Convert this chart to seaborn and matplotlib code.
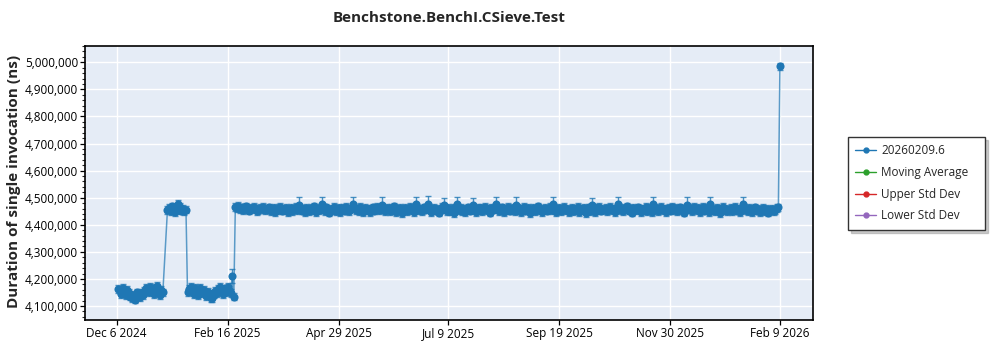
import matplotlib
matplotlib.use("Agg")
import matplotlib.pyplot as plt
import matplotlib.dates as mdates
from matplotlib.ticker import FuncFormatter, FixedLocator, MultipleLocator
from matplotlib.lines import Line2D
import numpy as np
import pandas as pd
import seaborn as sns

# ---------------- data ----------------
title = "Benchstone.BenchI.CSieve.Test"
y_label = "Duration of single invocation (ns)"
legend_names = ["20260209.6", "Moving Average", "Upper Std Dev", "Lower Std Dev"]
legend_colors = ["#1f77b4", "#2ca02c", "#d62728", "#9467bd"]

# daily runs, values in thousands of ns
seg1_start = "2024-12-07"
seg1_k = [4163, 4158, 4145, 4168, 4152, 4140, 4160, 4148, 4135, 4128,
          4142, 4124, 4150, 4138, 4132, 4147, 4139, 4155, 4168, 4160,
          4150, 4172, 4158, 4145, 4166, 4175, 4152, 4141, 4160, 4150]

seg2_start = "2025-01-08"
seg2_k = [4455, 4462, 4450, 4468, 4458, 4447, 4460, 4476, 4465, 4452,
          4459, 4449, 4456]

seg3_start = "2025-01-21"
seg3_k = [4150, 4163, 4172, 4158, 4145, 4166, 4152, 4140, 4168, 4155,
          4147, 4160, 4138, 4153, 4145, 4130, 4128, 4142, 4156, 4149,
          4163, 4170, 4158, 4144, 4165, 4152, 4172, 4160, 4148, 4210,
          4135]

seg4_start = "2025-02-21"
seg4_k = [4466, 4462, 4470, 4458, 4464, 4455, 4461, 4468, 4459, 4452, 4463, 4457, 4466, 4460, 4449, 4455, 4462, 4458, 4467, 4453,
          4460, 4456, 4464, 4451, 4458, 4462, 4447, 4455, 4461, 4466, 4452, 4459, 4454, 4463, 4448, 4457, 4462, 4450, 4458, 4465,
          4455, 4474, 4460, 4452, 4458, 4446, 4463, 4457, 4450, 4461, 4455, 4468, 4448, 4459, 4453, 4462, 4476, 4458, 4451, 4464,
          4457, 4445, 4460, 4454, 4466, 4450, 4458, 4463, 4447, 4455, 4461, 4452, 4467, 4458, 4449, 4460, 4475, 4462, 4454, 4459,
          4451, 4465, 4457, 4448, 4462, 4455, 4460, 4446, 4458, 4464, 4452, 4459, 4467, 4453, 4461, 4474, 4456, 4449, 4463, 4457,
          4450, 4462, 4455, 4468, 4447, 4458, 4453, 4461, 4444, 4457, 4463, 4451, 4459, 4466, 4454, 4460, 4448, 4477, 4462, 4455,
          4458, 4450, 4464, 4456, 4461, 4478, 4459, 4447, 4455, 4463, 4452, 4460, 4445, 4457, 4466, 4473, 4458, 4451, 4462, 4449,
          4456, 4461, 4443, 4458, 4475, 4455, 4463, 4450, 4459, 4446, 4457, 4464, 4452, 4460, 4474, 4457, 4448, 4462, 4455, 4461,
          4450, 4458, 4466, 4453, 4459, 4445, 4461, 4456, 4463, 4476, 4459, 4451, 4457, 4464, 4448, 4460, 4454, 4467, 4452, 4458,
          4463, 4449, 4474, 4461, 4455, 4447, 4459, 4466, 4452, 4458, 4461, 4444, 4456, 4463, 4450, 4459, 4468, 4454, 4460, 4447,
          4457, 4463, 4452, 4459, 4466, 4455, 4477, 4460, 4448, 4456, 4462, 4451, 4458, 4465, 4453, 4460, 4446, 4457, 4463, 4450,
          4459, 4454, 4466, 4448, 4460, 4455, 4462, 4443, 4457, 4464, 4451, 4473, 4458, 4446, 4461, 4455, 4467, 4452, 4459, 4456,
          4462, 4449, 4457, 4465, 4453, 4460, 4447, 4458, 4478, 4462, 4455, 4450, 4463, 4457, 4468, 4452, 4459, 4445, 4461, 4456,
          4453, 4464, 4458, 4448, 4460, 4455, 4466, 4451, 4459, 4462, 4446, 4475, 4457, 4463, 4450, 4458, 4465, 4454, 4460, 4447,
          4458, 4463, 4452, 4467, 4455, 4461, 4449, 4457, 4464, 4453, 4460, 4445, 4458, 4474, 4462, 4456, 4450, 4466, 4459, 4454,
          4461, 4448, 4457, 4465, 4452, 4459, 4463, 4446, 4476, 4460, 4455, 4451, 4462, 4458, 4444, 4457, 4465, 4453, 4459, 4450,
          4456, 4462, 4449, 4458, 4465, 4452, 4460, 4447, 4459, 4475, 4463, 4455, 4450, 4461, 4457, 4446, 4458, 4464, 4452, 4459,
          4448, 4456, 4462, 4451, 4458, 4445, 4457, 4453, 4460, 4449, 4455, 4461, 4464]

last_start = "2026-02-09"
last_k = [4985]

# typical error of a run (thousands of ns) and runs with larger errors
err_typical_k = 14
err_dates = ["2025-02-19", "2025-04-03", "2025-04-18", "2025-05-08", "2025-05-27",
             "2025-06-18", "2025-06-26", "2025-07-06", "2025-07-15", "2025-07-25",
             "2025-08-09", "2025-08-22", "2025-09-15", "2025-10-10", "2025-10-27",
             "2025-11-19", "2025-12-11", "2025-12-26", "2026-01-16"]
err_k = [26, 28, 27, 28, 27, 26, 28, 26, 27, 26, 27, 28, 26, 27, 25, 27, 27, 26, 28]

x_tick_dates = ["2024-12-06", "2025-02-16", "2025-04-29", "2025-07-09",
                "2025-09-19", "2025-11-30", "2026-02-09"]
y_ticks = [4100000, 4200000, 4300000, 4400000, 4500000,
           4600000, 4700000, 4800000, 4900000, 5000000]
y_limits = (4048300, 5060200)

# ---------------- build table ----------------
parts = []
for start, vals in [(seg1_start, seg1_k), (seg2_start, seg2_k), (seg3_start, seg3_k),
                    (seg4_start, seg4_k), (last_start, last_k)]:
    d = pd.date_range(start, periods=len(vals), freq="D")
    parts.append(pd.DataFrame({"date": d, "value": np.array(vals, dtype=float) * 1000}))
df = pd.concat(parts, ignore_index=True)
df["series"] = legend_names[0]
big_err = dict(zip(pd.to_datetime(err_dates), np.array(err_k) * 1000.0))
df["err"] = [big_err.get(d, err_typical_k * 1000.0) for d in df["date"]]

# ---------------- style ----------------
sns.set_style("white", {
    "axes.facecolor": "#E5ECF6",
    "axes.edgecolor": "black",
    "grid.color": "white",
})
plt.rcParams["font.family"] = ["Open Sans", "DejaVu Sans"]

fig = plt.figure(figsize=(10, 3.5), dpi=100)
fig.patch.set_facecolor("white")
ax = fig.add_axes([0.085, 0.0857, 0.728, 0.7829])

blue = legend_colors[0]
sns.lineplot(data=df, x="date", y="value", ax=ax, color=blue, lw=1.1, alpha=0.7,
             estimator=None, sort=False, legend=False)
ax.errorbar(df["date"], df["value"], yerr=df["err"], fmt="none",
            ecolor=blue, elinewidth=1.0, capsize=2.3, capthick=1.0, alpha=0.8, zorder=3)
sns.scatterplot(data=df, x="date", y="value", ax=ax, color=blue, s=34,
                linewidth=0, legend=False, zorder=4)

# axes
ax.margins(x=0.05)
ax.set_ylim(*y_limits)
ax.set_xlabel("")
ax.set_ylabel("")
ax.xaxis.set_major_locator(FixedLocator(mdates.date2num(pd.to_datetime(x_tick_dates))))
ax.xaxis.set_major_formatter(mdates.DateFormatter("%b %-d %Y"))
ax.yaxis.set_major_locator(FixedLocator(y_ticks))
ax.yaxis.set_minor_locator(MultipleLocator(20000))
ax.yaxis.set_major_formatter(FuncFormatter(lambda v, p: f"{v:,.0f}"))
ax.grid(True, which="major", color="white", lw=1.0)
ax.set_axisbelow(True)
for s in ax.spines.values():
    s.set_visible(True)
    s.set_color("black")
    s.set_linewidth(1.2)
ax.tick_params(axis="both", which="major", direction="out", length=3.5, width=0.9,
               labelsize=8.5, colors="black", pad=1.5)
ax.tick_params(axis="y", which="minor", direction="out", length=2, width=0.8, left=True)
ax.tick_params(axis="x", which="major", bottom=True)
ax.tick_params(axis="y", which="major", left=True)

fig.text(0.449, 0.948, title, ha="center", va="center", fontsize=11, fontweight="bold")
fig.text(0.014, 0.481, y_label, ha="center", va="center", rotation=90,
         fontsize=11, fontweight="bold")

handles = [Line2D([], [], color=c, lw=1.0, marker="o", markersize=3.5) for c in legend_colors]
leg_h = 0.26
fig.legend(handles, legend_names, loc="upper left",
           bbox_to_anchor=(0.848, 0.609 - leg_h, 0.137, leg_h), mode="expand",
           fontsize=8.5, frameon=True, fancybox=False, edgecolor="#333333",
           facecolor="white", framealpha=1,
           shadow={"ox": 2.2, "oy": -2.2, "color": "#999999"},
           handlelength=1.8, handletextpad=0.4, labelspacing=0.75, borderpad=0.6,
           borderaxespad=0)

fig.savefig("out.png", dpi=100)
